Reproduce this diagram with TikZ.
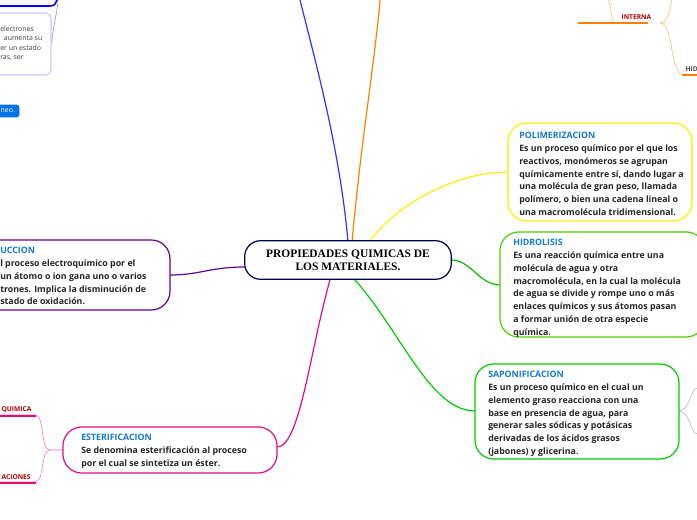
\documentclass[tikz,border=0pt]{standalone}
\usepackage{fontspec}
\setmainfont{Open Sans}
\newfontfamily\serifb{Liberation Serif}
\begin{document}
\begin{tikzpicture}[x=0.75pt,y=-0.75pt,
  box/.style={draw,rounded corners=14pt,line width=0.9pt,fill=white},
  body/.style={anchor=north west,align=left,font=\fontsize{6.6}{9.6}\selectfont\bfseries,text=black!85,inner sep=0pt},
  con/.style={line width=0.9pt}]
\useasboundingbox (0,0) rectangle (697,520);
% connectors
\draw[con,blue!80] (348,242) .. controls (340,150) and (315,60) .. (300,0);
\draw[con,orange] (352,242) .. controls (360,150) and (375,60) .. (380,0);
\draw[con,yellow!95!orange] (368,243) .. controls (400,200) and (460,172) .. (508,172);
\draw[con,green!75!black] (452,260) .. controls (470,260) and (480,285) .. (500,285);
\draw[con,green!80!black] (355,280) .. controls (400,330) and (430,411) .. (475,411);
\draw[con,violet!80!blue] (245,267) .. controls (210,267) and (200,275) .. (170,275);
\draw[con,magenta!90!violet] (330,280) .. controls (310,350) and (300,447) .. (277,447);
\draw[gray!60] (678,411) .. controls (690,411) and (690,390) .. (697,388);
\draw[gray!60] (678,411) .. controls (690,411) and (690,432) .. (697,434);
% esterificacion branches
\draw[magenta!60] (63,450) -- (50,450) .. controls (40,450) and (45,415) .. (35,415) -- (0,415);
\draw[magenta!60] (50,450) .. controls (40,450) and (45,482) .. (35,482) -- (0,482);
\draw[line width=1pt,magenta!80!red] (0,416) -- (36,416);
\draw[line width=1pt,magenta!80!red] (0,483) -- (36,483);
\node[anchor=south west,inner sep=1pt,text=red!70!black,font=\fontsize{5}{6}\selectfont\bfseries] (q) at (0,414) {QUIMICA};
\node[anchor=south west,inner sep=1pt,text=red!70!black,font=\fontsize{5}{6}\selectfont\bfseries] (a) at (0,481) {ACIONES};
% top right
\draw[orange!60] (615,23) .. controls (610,20) and (612,5) .. (608,0);
\draw[orange!60] (660,23) .. controls (670,23) and (670,5) .. (672,0);
\draw[orange!60] (660,23) .. controls (675,23) and (668,75) .. (685,75);
\draw[line width=1pt,orange] (578,23) -- (648,23);
\draw[line width=1pt,orange] (682,75) -- (697,75);
\node[anchor=south west,inner sep=1pt,text=red!70!black,font=\fontsize{5}{6}\selectfont\bfseries] (int) at (620,21) {INTERNA};
\node[anchor=south west,inner sep=1pt,text=black!70,font=\fontsize{5}{6}\selectfont\bfseries] (hid) at (684,73) {HID};
% top left
\draw[blue!50] (58,0) .. controls (58,10) and (52,30) .. (52,43);
\draw[line width=1.2pt,blue] (-5,6) -- (50,6) .. controls (55,6) and (56,3) .. (57,0);
\draw[blue!40,rounded corners=4pt] (-10,13) rectangle (51,75);
\node[anchor=north west,inner sep=0pt,align=left,text=black!75,font=\fontsize{5.2}{7}\selectfont] (tl) at (0,26)
 {electrones\\\phantom{x}aumenta su\\er un estado\\ras, ser};
\node[fill=blue!50!cyan!90!black,rounded corners=2pt,text=white,font=\fontsize{5.2}{7}\selectfont,anchor=west] (neo) at (-4,111) {neo.};
% central
\node[box,draw=blue!30!black,rounded corners=12pt,minimum width=155pt,minimum height=29pt,align=center,font=\serifb\bfseries\fontsize{8.6}{9.6}\selectfont] (c) at (348,260) {PROPIEDADES QUIMICAS DE\\LOS MATERIALES.};
% boxes
\draw[box,draw=yellow!95!orange] (508,123) rectangle (692,221);
\node[body] (pol) at (519,132) {\textcolor{cyan!60!blue}{POLIMERIZACION}\\Es un proceso químico por el que los\\reactivos, monómeros se agrupan\\químicamente entre sí, dando lugar a\\una molécula de gran peso, llamada\\polímero, o bien una cadena lineal o\\una macromolécula tridimensional.};
\draw[box,draw=green!70!black!60!lime] (500,232) rectangle (705,337);
\node[body] (hid2) at (513,239) {\textcolor{cyan!60!blue}{HIDROLISIS}\\Es una reacción química entre una\\molécula de agua y otra\\macromolécula, en la cual la molécula\\de agua se divide y rompe uno o más\\enlaces químicos y sus átomos pasan\\a formar unión de otra especie\\química.};
\draw[box,draw=green!80!black] (475,364) rectangle (679,459);
\node[body] (sap) at (488,371) {\textcolor{cyan!60!blue}{SAPONIFICACION}\\Es un proceso químico en el cual un\\elemento graso reacciona con una\\base en presencia de agua, para\\generar sales sódicas y potásicas\\derivadas de los ácidos grasos\\(jabones) y glicerina.};
\draw[box,draw=violet!80!blue] (-30,240) rectangle (170,310);
\node[body] (red) at (0,247) {\textcolor{cyan!60!blue}{UCCION}\\l proceso electroquímico por el\\ un átomo o ion gana uno o varios\\trones. Implica la disminución de\\stado de oxidación.};
\draw[box,draw=magenta!90!violet] (63,427) rectangle (277,473);
\node[body] (est) at (81,434) {\textcolor{cyan!60!blue}{ESTERIFICACION}\\Se denomina esterificación al proceso\\por el cual se sintetiza un éster.};
\end{tikzpicture}
\end{document}
